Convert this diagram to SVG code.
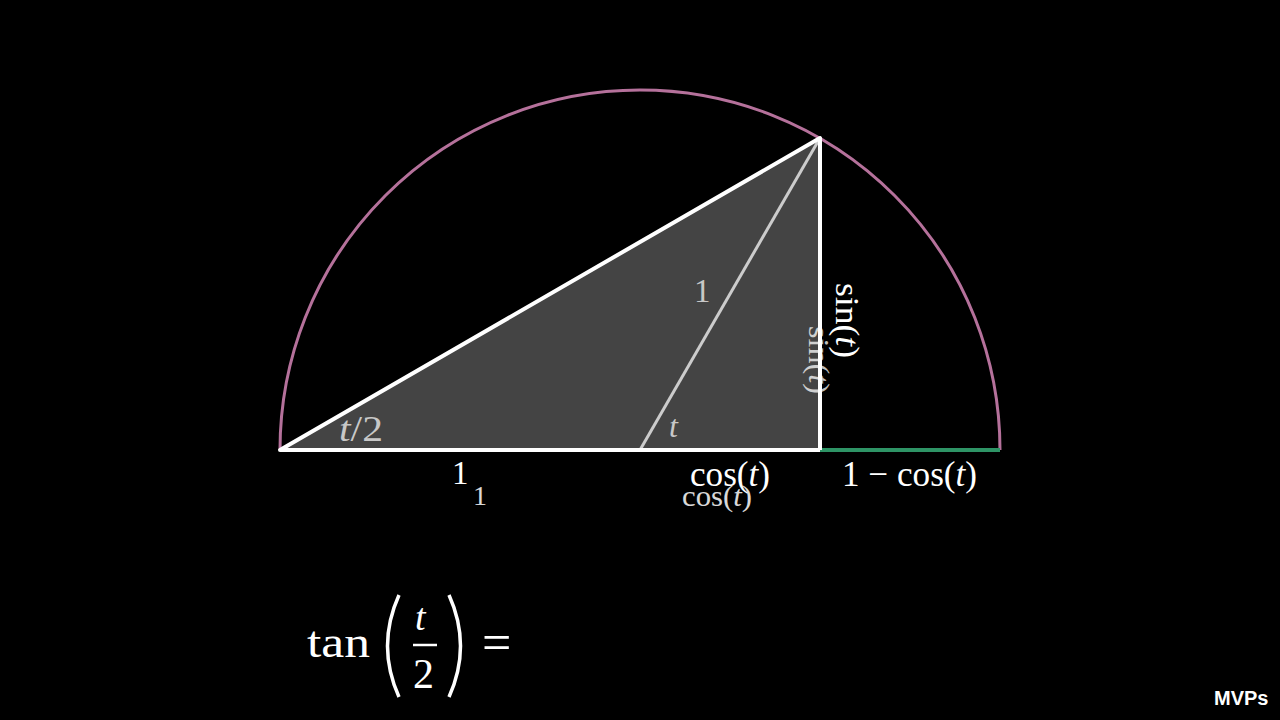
<svg xmlns="http://www.w3.org/2000/svg" width="1280" height="720" viewBox="0 0 1280 720">
<style>
.m{font-family:"Liberation Serif","DejaVu Serif",serif;fill:#ffffff}
.i{font-style:italic}
.g{fill:#c8c8c8}
</style>
<rect width="1280" height="720" fill="#000"/>
<g id="shapes">
<path d="M280,450 A360,360 0 0 1 1000,450" fill="none" stroke="#b5719b" stroke-width="3"/>
<polygon points="280,450 820,138 820,450" fill="#444444"/>
<line x1="820" y1="450" x2="1000" y2="450" stroke="#2e9466" stroke-width="4"/>
<line x1="640" y1="450" x2="820" y2="138" stroke="#cccccc" stroke-width="3"/>
<polyline points="820,450 280,450 820,138 820,450" fill="none" stroke="#ffffff" stroke-width="4" stroke-linejoin="round"/>
</g>
<g id="labels">
<text class="m g" x="339" y="441" font-size="35" textLength="44" lengthAdjust="spacingAndGlyphs"><tspan class="i">t</tspan>/2</text>
<text class="m g i" x="669" y="437" font-size="32">t</text>
<text class="m g" x="694" y="302" font-size="33">1</text>
<text class="m" transform="translate(836,283) rotate(90)" font-size="34" textLength="75" lengthAdjust="spacingAndGlyphs">sin(<tspan class="i">t</tspan>)</text>
<text class="m" transform="translate(809,326) rotate(90)" font-size="30" opacity="0.75" textLength="68" lengthAdjust="spacingAndGlyphs">sin(<tspan class="i">t</tspan>)</text>
<text class="m" x="452" y="484" font-size="33">1</text>
<text class="m" x="473" y="505" font-size="28" opacity="0.85">1</text>
<text class="m" x="690" y="486" font-size="35" textLength="80" lengthAdjust="spacingAndGlyphs">cos(<tspan class="i">t</tspan>)</text>
<text class="m" x="682" y="506" font-size="30" opacity="0.85" textLength="70" lengthAdjust="spacingAndGlyphs">cos(<tspan class="i">t</tspan>)</text>
<text class="m" x="842" y="486" font-size="35" textLength="135" lengthAdjust="spacingAndGlyphs">1 − cos(<tspan class="i">t</tspan>)</text>
</g>
<g id="formula">
<text class="m" x="307" y="657" font-size="44" textLength="63" lengthAdjust="spacingAndGlyphs">tan</text>
<path d="M399,595 Q376,646 399,697" fill="none" stroke="#fff" stroke-width="3.5"/>
<path d="M449,595 Q472,646 449,697" fill="none" stroke="#fff" stroke-width="3.5"/>
<text class="m i" x="415" y="630" font-size="38">t</text>
<line x1="413" y1="645" x2="437" y2="645" stroke="#fff" stroke-width="2.5"/>
<text class="m" x="413" y="688" font-size="42">2</text>
<text class="m" x="482" y="660" font-size="52">=</text>
</g>
<text x="1214" y="705" font-family="Liberation Sans,Arial,sans-serif" font-weight="bold" font-size="20" fill="#fff">MVPs</text>
</svg>
